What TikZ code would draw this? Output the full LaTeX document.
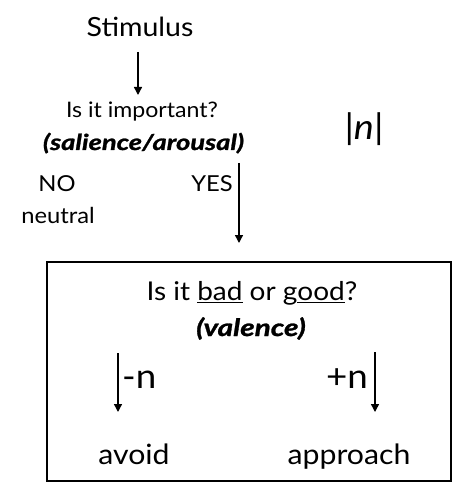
\documentclass[tikz,border=0pt]{standalone}
\usepackage{fontspec}
\setmainfont[FakeStretch=1.08]{Lato}
\usetikzlibrary{arrows.meta}
\newcommand\myul[1]{\leavevmode\setbox0\hbox{#1}\rlap{\rule[-3.4pt]{\wd0}{1.1pt}}\box0\relax}
\tikzset{
  txt/.style={inner sep=0pt, anchor=base},
  heavy/.style={font=\fontsize{#1}{#1}\selectfont\bfseries\itshape\addfontfeatures{FakeStretch=1.24,FakeBold=1.2}},
  arr/.style={line width=1.4pt, -{Triangle[width=8pt,length=8pt]}},
}
\begin{document}
\begin{tikzpicture}[x=1pt,y=-1pt]
\useasboundingbox (0,0) rectangle (474,502);
\node[txt, font=\fontsize{26.4}{28}\selectfont] (stim) at (140,37) {Stimulus};
\node[txt, font=\fontsize{21.4}{24}\selectfont] (imp) at (142,118) {Is it important?};
\node[txt, heavy=22] (sal) at (143.5,150) {(salience/arousal)};
\node[txt, font=\fontsize{35}{38}\selectfont] (absn) at (364,140) {\textbar\textit{n}\textbar};
\node[txt, font=\fontsize{22}{24}\selectfont] (no) at (57,192) {NO};
\node[txt, font=\fontsize{22}{24}\selectfont] (neu) at (58,223) {neutral};
\node[txt, font=\fontsize{22}{24}\selectfont] (yes) at (212,192) {YES};
\node[draw, line width=1.6pt, minimum width=404pt, minimum height=219pt, inner sep=0pt] (box) at (249,371.5) {};
\node[txt, font=\fontsize{25.9}{28}\selectfont] (val) at (252,300) {Is it \myul{bad} or g\myul{ood}?};
\node[txt, heavy=24] (valc) at (251,336) {(valence)};
\node[txt, anchor=base west, font=\fontsize{34}{36}\selectfont] (neg) at (122,388) {-n};
\node[txt, anchor=base east, font=\fontsize{34}{36}\selectfont] (pos) at (368,388) {+n};
\node[txt, font=\fontsize{28}{30}\selectfont] (avoid) at (134,464) {avoid};
\node[txt, font=\fontsize{28}{30}\selectfont] (appr) at (349,464) {approach};
\coordinate (a1s) at (138,52);
\coordinate (a1e) at (138,95);
\coordinate (a2s) at (239,163);
\coordinate (a2e) at (239,243);
\coordinate (a3s) at (118,353);
\coordinate (a3e) at (118,412);
\coordinate (a4s) at (375,352);
\coordinate (a4e) at (375,412);
\draw[arr] (a1s) -- (a1e);
\draw[arr] (a2s) -- (a2e);
\draw[arr] (a3s) -- (a3e);
\draw[arr] (a4s) -- (a4e);
\end{tikzpicture}
\end{document}
